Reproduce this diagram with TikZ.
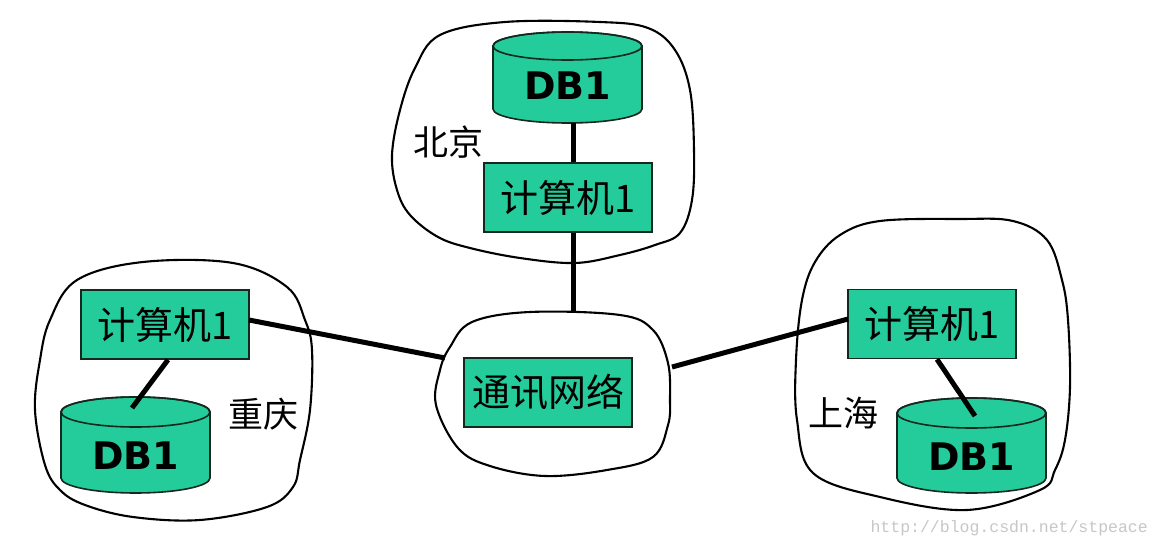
\documentclass[tikz,border=0pt]{standalone}
\usepackage{fontspec}
\newfontfamily\cjk{Noto Sans CJK SC}
\newfontfamily\dbfont{DejaVu Sans}
\newfontfamily\wmfont{Liberation Mono}
\usetikzlibrary{calc}
\definecolor{boxfill}{RGB}{36,204,155}
\definecolor{boxline}{RGB}{20,40,30}
\tikzset{
  blob/.style={draw=black, line width=2.1pt},
  pcbox/.style={draw=boxline, fill=boxfill, line width=1.6pt, minimum width=168pt, minimum height=69pt, inner sep=0pt, font=\cjk\fontsize{38}{42}\selectfont},
  cityname/.style={font=\cjk\fontsize{35}{38}\selectfont, inner sep=0pt},
  dbtext/.style={font=\dbfont\bfseries\fontsize{38}{40}\selectfont, inner sep=0pt},
  dbshape/.style={draw=boxline, fill=boxfill, line width=1.6pt},
  conn/.style={draw=black, line width=5pt},
  wmark/.style={font=\wmfont\fontsize{16.5}{18}\selectfont, text=black!22, inner sep=0pt}
}
\newcommand\dbcyl[5]{% cx, xr, yt, yb, ry
  \filldraw[dbshape] ({#1-#2},#3) -- ({#1-#2},#4)
    arc[start angle=180, end angle=0, x radius=#2, y radius=#5]
    -- ({#1+#2},#3)
    arc[start angle=0, end angle=-180, x radius=#2, y radius=#5] -- cycle;
  \draw[dbshape, fill=none] (#1,#3) ellipse [x radius=#2, y radius=#5];
}
\begin{document}
\begin{tikzpicture}[x=1pt,y=-1pt]
\useasboundingbox[fill=white] (0,0) rectangle (1160,548);

% regions (hand-drawn outlines)
\draw[blob] plot[smooth cycle, tension=0.6] coordinates {
  (505,22) (600,22) (648,28) (675,50) (690,90) (694,150) (692,200) (680,233)
  (655,245) (620,255) (575,263) (520,258) (470,248) (438,237) (410,215)
  (397,190) (392,155) (400,110) (415,68) (440,35)};
\draw[blob] plot[smooth cycle, tension=0.6] coordinates {
  (143,262) (233,263) (287,287) (305,320) (312,350) (310,410) (300,460) (293,487)
  (267,507) (200,520) (133,517) (85,505) (60,490) (45,465) (35,410) (40,360)
  (50,320) (77,280)};
\draw[blob] plot[smooth cycle, tension=0.6] coordinates {
  (530,312) (620,315) (653,330) (668,363) (670,400) (668,425) (653,457)
  (607,470) (545,476) (490,466) (458,448) (436,405) (440,370) (450,347) (472,322)};
\draw[blob] plot[smooth cycle, tension=0.6] coordinates {
  (880,221) (960,219) (1013,221) (1047,240) (1062,280) (1068,320) (1070,387)
  (1065,440) (1055,470) (1040,490) (967,510) (880,497) (813,473) (797,420)
  (796,360) (802,300) (815,262) (840,235)};

% databases
\dbcyl{567.5}{74.5}{46}{109}{14}
\node[dbtext] (bjdb) at (567.5,86) {DB1};
\coordinate (bjdbbot) at (573,123);

\dbcyl{135.5}{74.5}{412}{478}{15}
\node[dbtext] (cqdb) at (135.5,456) {DB1};
\coordinate (cqdbtop) at (132,408);

\dbcyl{971.5}{74.5}{413}{478}{15}
\node[dbtext] (shdb) at (971.5,457) {DB1};
\coordinate (shdbtop) at (975,416);

% computers and network
\node[pcbox] (bjpc) at (568,197.5) {计算机1};
\node[pcbox] (cqpc) at (165,324.5) {计算机1};
\node[pcbox] (shpc) at (932,324) {计算机1};
\node[pcbox] (net) at (548,392.5) {通讯网络};

% city names
\node[cityname] (bj) at (448,142) {北京};
\node[cityname] (cq) at (263,414) {重庆};
\node[cityname] (sh) at (843,413) {上海};

% connection points on the network outline
\coordinate (netT) at (573,311);
\coordinate (netL) at (445,358);
\coordinate (netR) at (672,367);
\coordinate (cqout) at (249,320);
\coordinate (shout) at (848,319);

% connectors
\draw[conn] (bjdbbot) -- (bjdbbot |- bjpc.north);
\draw[conn] (netT |- bjpc.south) -- (netT);
\draw[conn] (cqout) -- (netL);
\draw[conn] (shout) -- (netR);
\draw[conn] ($(cqpc.south)+(3,0)$) -- (cqdbtop);
\draw[conn] ($(shpc.south)+(5,0)$) -- (shdbtop);

% watermark
\node[wmark, anchor=east] (wm) at (1148,528) {http://blog.csdn.net/stpeace};
\end{tikzpicture}
\end{document}
